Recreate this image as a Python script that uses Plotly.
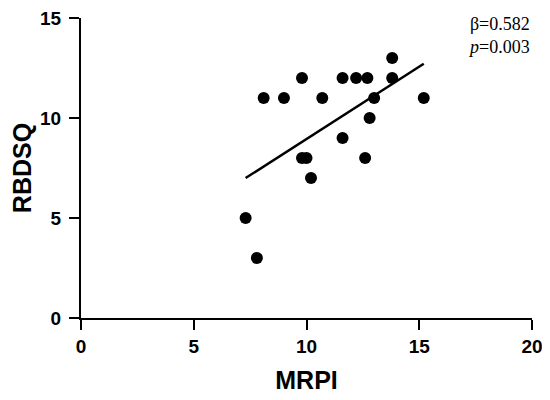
import numpy as np
import plotly.graph_objects as go

# Data
mrpi = [7.3, 7.8, 8.1, 9.0, 9.8, 9.8, 10.0, 10.2, 10.7, 11.6, 11.6, 12.2, 12.6, 12.7, 12.8, 13.0, 13.8, 13.8, 15.2]
rbdsq = [5, 3, 11, 11, 12, 8, 8, 7, 11, 12, 9, 12, 8, 12, 10, 11, 13, 12, 11]
x_ticks = [0, 5, 10, 15, 20]
y_ticks = [0, 5, 10, 15]
stats_text = "β=0.582<br><i>p</i>=0.003"

x = np.array(mrpi, dtype=float)
y = np.array(rbdsq, dtype=float)
slope, intercept = np.polyfit(x, y, 1)
fit_x = np.array([x.min(), x.max()])
fit_y = slope * fit_x + intercept

fig = go.Figure()
fig.add_trace(go.Scatter(
    x=fit_x, y=fit_y, mode="lines",
    line=dict(color="black", width=2.5),
    showlegend=False, hoverinfo="skip",
))
fig.add_trace(go.Scatter(
    x=mrpi, y=rbdsq, mode="markers",
    marker=dict(color="black", size=12, line=dict(width=0)),
    showlegend=False,
))

tick_font = dict(family="Liberation Sans, Arial, sans-serif", size=19, color="black", weight="bold")
title_font = dict(family="Liberation Sans, Arial, sans-serif", size=25, color="black", weight="bold")

# page body has an 8px margin, so the figure is sized to fit the 550x400 window
fig.update_layout(
    width=542, height=392,
    margin=dict(l=73, r=18, t=10, b=82),
    paper_bgcolor="white", plot_bgcolor="white",
    xaxis=dict(
        range=[0, 20], tickvals=x_ticks, ticktext=[f"<b>{v}</b>" for v in x_ticks],
        showline=True, linecolor="black", linewidth=2,
        ticks="outside", ticklen=10, tickwidth=2, tickcolor="black",
        showgrid=False, zeroline=False, tickfont=tick_font, automargin=False,
        ticklabeloverflow="allow",
        title=dict(text="MRPI", font=title_font, standoff=16),
    ),
    yaxis=dict(
        range=[0, 15], tickvals=y_ticks, ticktext=[f"<b>{v}</b>" for v in y_ticks],
        showline=True, linecolor="black", linewidth=2,
        ticks="outside", ticklen=10, tickwidth=2, tickcolor="black",
        showgrid=False, zeroline=False, tickfont=tick_font, automargin=False,
        ticklabeloverflow="allow", ticklabelstandoff=4,
        title=dict(text="RBDSQ", font=title_font, standoff=10),
    ),
    annotations=[dict(
        text=stats_text, xref="paper", yref="paper",
        x=0.927, y=0.943, xanchor="center", yanchor="middle",
        showarrow=False, align="center",
        font=dict(family="Liberation Serif, Times New Roman, serif", size=18, color="black"),
    )],
)

fig.write_html("out.html")
